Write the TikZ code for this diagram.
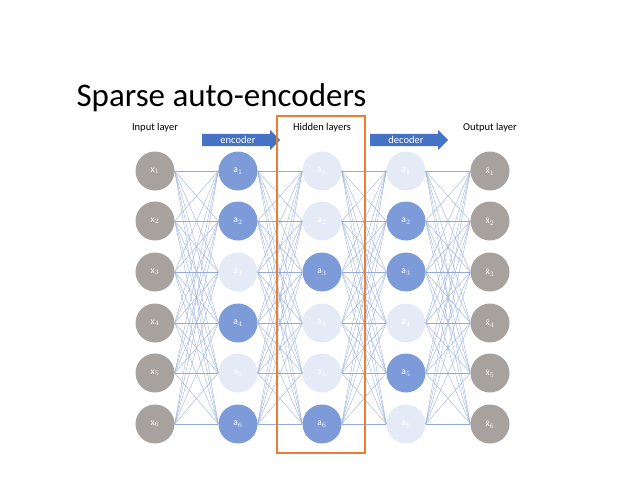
\documentclass[tikz,border=0pt]{standalone}
\usepackage{fontspec}
\setmainfont{Carlito}
\usetikzlibrary{shapes.arrows}
\definecolor{gr}{HTML}{A7A29D}
\definecolor{dk}{HTML}{7D9BD8}
\definecolor{lt}{HTML}{E5EBF6}
\definecolor{ln}{HTML}{93ABDC}
\definecolor{ar}{HTML}{4472C4}
\definecolor{orn}{HTML}{ED7D31}
\begin{document}
\begin{tikzpicture}[x=1pt,y=-1pt,
  nd/.style={circle,minimum size=39pt,inner sep=0pt,text=white,font=\fontsize{9.5}{9.5}\selectfont},
  gn/.style={nd,fill=gr},
  dn/.style={nd,fill=dk},
  ln/.style={nd,fill=lt,text=white},
  lab/.style={font=\fontsize{10.5}{11}\selectfont},
  arr/.style={single arrow,fill=ar,text=white,minimum height=78pt,minimum width=20pt,single arrow head extend=3pt,inner sep=1pt,font=\fontsize{10.5}{11}\selectfont,anchor=center}]
\useasboundingbox (0,0) rectangle (638,493);
\node[anchor=base west,font=\fontsize{33}{33}\selectfont] (title) at (73,106) {Sparse auto-encoders};
\def\ys{{171,221,272,323,373,424}}
\foreach \i/\c in {1/dn,2/dn,3/ln,4/dn,5/ln,6/dn} {\pgfmathsetmacro\yy{\ys[\i-1]}\node[\c] (b\i) at (238,\yy) {a$_{\i}$};}
\foreach \i/\c in {1/ln,2/ln,3/dn,4/ln,5/ln,6/dn} {\pgfmathsetmacro\yy{\ys[\i-1]}\node[\c] (c\i) at (322,\yy) {a$_{\i}$};}
\foreach \i/\c in {1/ln,2/dn,3/dn,4/ln,5/dn,6/ln} {\pgfmathsetmacro\yy{\ys[\i-1]}\node[\c] (d\i) at (406,\yy) {a$_{\i}$};}
\foreach \i in {1,...,6} {\pgfmathsetmacro\yy{\ys[\i-1]}
  \node[gn] (a\i) at (155,\yy) {x$_{\i}$};
  \node[gn] (e\i) at (490,\yy) {$\hat{\mathrm{x}}_{\i}$};}
\foreach \p/\q in {a/b,b/c,c/d,d/e} \foreach \i in {1,...,6} \foreach \j in {1,...,6}
  \draw[draw=ln,line width=0.35pt] (\p\i.east) -- (\q\j.west);
\node[lab] (il) at (155,128) {Input layer};
\node[lab] (hl) at (322,128) {Hidden layers};
\node[lab] (ol) at (490,128) {Output layer};
\node[arr] (enc) at (238,140) {encoder\hspace{8pt}};
\node[arr] (dec) at (406,140) {decoder\hspace{8pt}};
\draw[orn,line width=2pt] (277,116) rectangle (365,453);
\end{tikzpicture}
\end{document}
